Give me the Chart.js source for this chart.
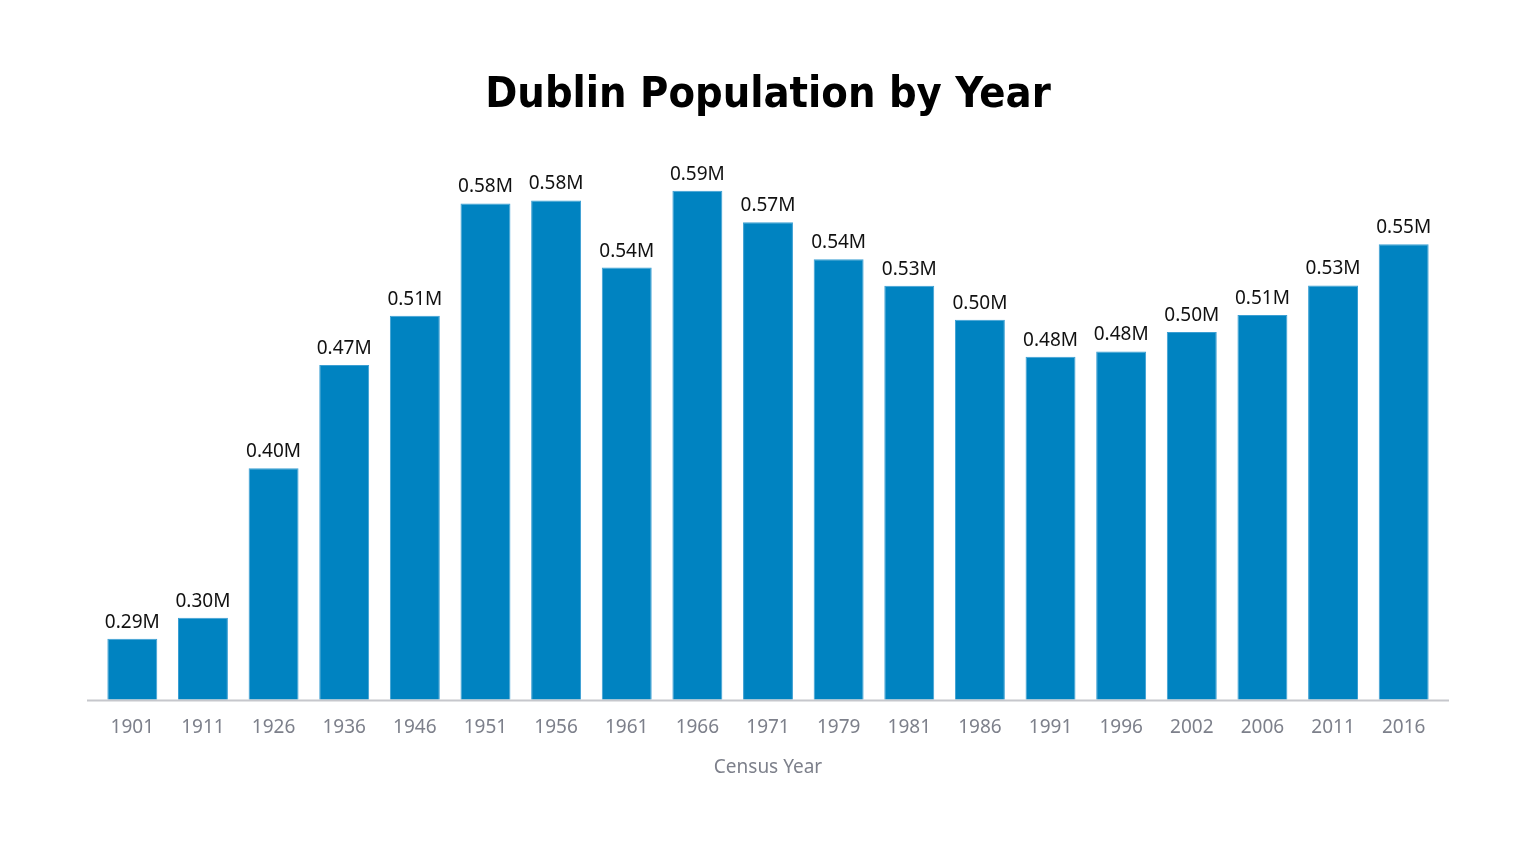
<!DOCTYPE html>
<html>
<head>
<meta charset="utf-8">
<title>Dublin Population by Year</title>
<script src="https://cdn.jsdelivr.net/npm/chart.js@4.4.1/dist/chart.umd.min.js"></script>
<style>
    html, body { margin: 0; padding: 0; background: #ffffff; }
    #chartBox { width: 1536px; height: 864px; }
</style>
</head>
<body>
<div id="chartBox"><canvas id="grafic-population"></canvas></div>
<script>
/* Data */
const censusYears = ['1901', '1911', '1926', '1936', '1946', '1951', '1956', '1961', '1966', '1971',
    '1979', '1981', '1986', '1991', '1996', '2002', '2006', '2011', '2016'];
const population = [290600, 304700, 404700, 473900, 506800, 581900, 584000, 539000, 590400, 569400,
    544600, 526900, 504100, 479300, 482900, 495900, 507300, 527100, 554600];
const axisRange = [250000, 620000];

function formatMillions(value) {
    return (value / 1000000).toFixed(2) + 'M';
}

/* Plugins */
const barLabels = {
    id: 'barLabels',
    afterDatasetsDraw(chart) {
        const ctx = chart.ctx;
        const meta = chart.getDatasetMeta(0);
        ctx.save();
        ctx.font = '19px "Noto Sans"';
        ctx.fillStyle = '#111111';
        ctx.textAlign = 'center';
        ctx.textBaseline = 'bottom';
        meta.data.forEach(function (bar, i) {
            ctx.fillText(formatMillions(population[i]), bar.x, bar.y - 7);
        });
        ctx.restore();
    }
};

const baseLine = {
    id: 'baseLine',
    afterDatasetsDraw(chart) {
        const ctx = chart.ctx;
        const area = chart.chartArea;
        ctx.save();
        ctx.strokeStyle = '#c6c7cc';
        ctx.lineWidth = 2;
        ctx.beginPath();
        ctx.moveTo(area.left - 10, area.bottom + 1);
        ctx.lineTo(area.right + 10, area.bottom + 1);
        ctx.stroke();
        ctx.restore();
    }
};

/* Graphic */
function createPopulationChart() {
    const ctx = document.getElementById('grafic-population').getContext('2d');

    const data = {
        labels: censusYears,
        datasets: [{
            label: 'Population',
            data: population,
            backgroundColor: '#0083c1',
            borderColor: '#3b9fd3',
            borderWidth: 1,
            borderSkipped: 'bottom',
            categoryPercentage: 1,
            barPercentage: 0.707
        }]
    };

    const options = {
        responsive: true,
        maintainAspectRatio: false,
        animation: false,
        layout: {
            padding: { top: 70, bottom: 85, left: 97, right: 97 }
        },
        plugins: {
            legend: { display: false },
            tooltip: { enabled: false },
            title: {
                display: true,
                text: 'Dublin Population by Year',
                color: '#000000',
                font: { family: '"DejaVu Sans Condensed", Roboto, sans-serif', size: 43, weight: 'bold' },
                padding: { top: 0, bottom: 25 }
            }
        },
        scales: {
            x: {
                grid: { display: false, drawTicks: false },
                border: { display: false },
                ticks: {
                    color: '#7d808b',
                    padding: 17,
                    font: { family: '"Noto Sans"', size: 19 }
                },
                title: {
                    display: true,
                    text: 'Census Year',
                    color: '#7d808b',
                    font: { family: '"Noto Sans"', size: 19 },
                    padding: { top: 0, bottom: 0 }
                }
            },
            y: {
                display: false,
                min: axisRange[0],
                max: axisRange[1]
            }
        }
    };

    new Chart(ctx, {
        type: 'bar',
        data: data,
        options: options,
        plugins: [barLabels, baseLine]
    });
}

createPopulationChart();
</script>
</body>
</html>
